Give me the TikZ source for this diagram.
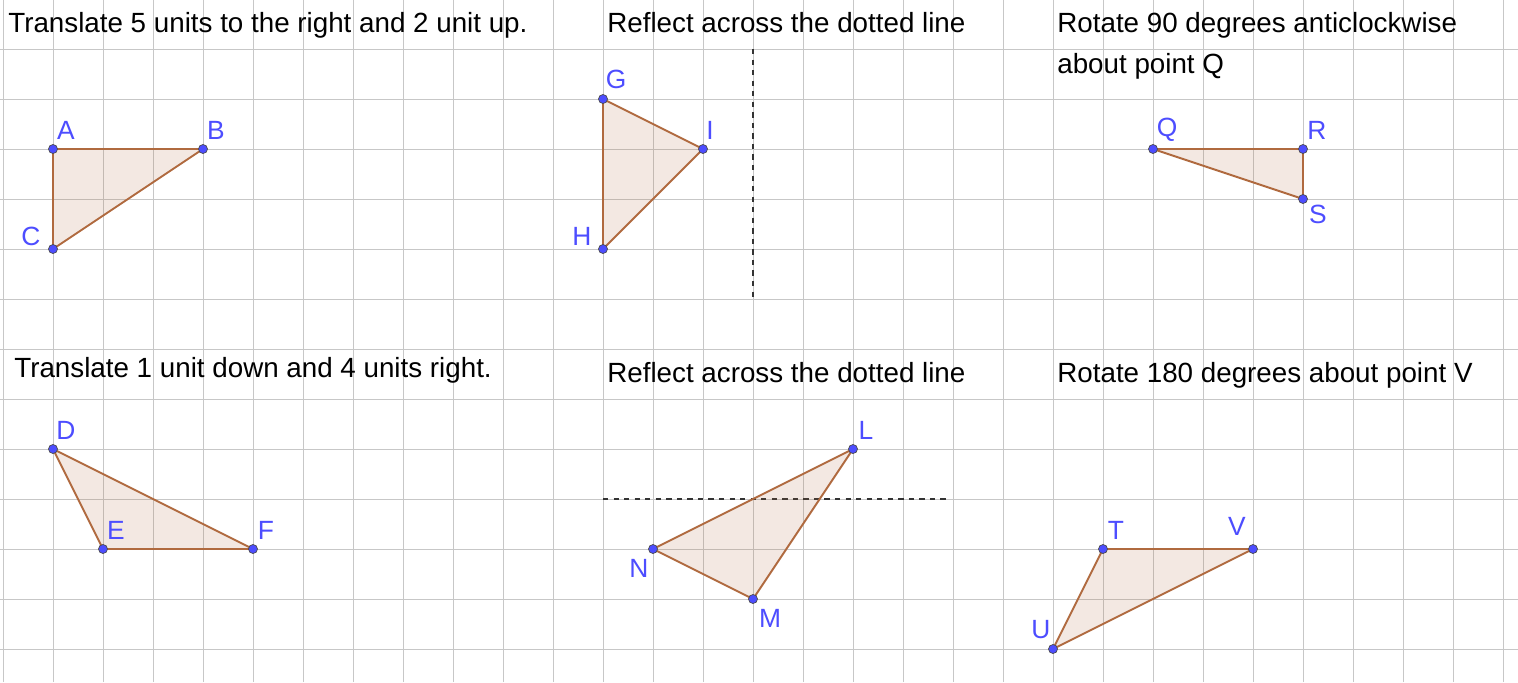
\documentclass[tikz,border=0pt]{standalone}
\usepackage{fontspec}
\setmainfont{Liberation Sans}
\usetikzlibrary{positioning}
\definecolor{ptblue}{HTML}{4D4DFF}
\definecolor{edgebrown}{HTML}{B06A3F}
\tikzset {
  % grid points
  pt/.style = {draw=black!70, fill=ptblue, circle, inner sep=0pt, minimum size=1.8mm},
  lbl/.style = {text=ptblue, font=\fontsize{15}{17}\selectfont, inner sep=0pt},
  % triangles
  tri/.style = {draw=edgebrown, fill=edgebrown, fill opacity=0.15, line width=1.1pt, line join=round},
  task/.style = {anchor=base west, inner sep=0pt, font=\fontsize{15.8}{18}\selectfont},
  mirror/.style = {dashed, thick, black!80},
}
\begin{document}
\begin{tikzpicture}
      \useasboundingbox (-0.06,-0.66) rectangle (30.3,12.98);
      \fill[white] (-0.06,-0.66) rectangle (30.3,12.98);
      \draw[black!22, thin] (-0.06,-0.66) grid (30.3,12.98);

      % task texts
      \node[task] (t1) at (0.1,12.34) {Translate 5 units to the right and 2 unit up.};
      \node[task] (t2) at (12.08,12.34) {Reflect across the dotted line};
      \node[task] (t3) at (21.08,12.34) {Rotate 90 degrees anticlockwise};
      \node[task] (t3b) at (21.08,11.52) {about point Q};
      \node[task] (t4) at (0.22,5.44) {Translate 1 unit down and 4 units right.};
      \node[task] (t5) at (12.08,5.34) {Reflect across the dotted line};
      \node[task] (t6) at (21.08,5.34) {Rotate 180 degrees about point V};

      % mirror lines
      \coordinate (m1) at (15,12);
      \coordinate (m2) at (15,7);
      \coordinate (m3) at (12,3);
      \coordinate (m4) at (18.9,3);
      \draw[mirror] (m1) -- (m2);
      \draw[mirror] (m3) -- (m4);

      % points
      \coordinate (A) at (1,10);
      \coordinate (B) at (4,10);
      \coordinate (C) at (1,8);
      \coordinate (G) at (12,11);
      \coordinate (I) at (14,10);
      \coordinate (H) at (12,8);
      \coordinate (Q) at (23,10);
      \coordinate (R) at (26,10);
      \coordinate (S) at (26,9);
      \coordinate (D) at (1,4);
      \coordinate (E) at (2,2);
      \coordinate (F) at (5,2);
      \coordinate (L) at (17,4);
      \coordinate (N) at (13,2);
      \coordinate (M) at (15,1);
      \coordinate (T) at (22,2);
      \coordinate (V) at (25,2);
      \coordinate (U) at (21,0);

      % triangles
      \filldraw[tri] (A) -- (B) -- (C) -- cycle;
      \filldraw[tri] (G) -- (I) -- (H) -- cycle;
      \filldraw[tri] (Q) -- (R) -- (S) -- cycle;
      \filldraw[tri] (D) -- (E) -- (F) -- cycle;
      \filldraw[tri] (L) -- (M) -- (N) -- cycle;
      \filldraw[tri] (T) -- (V) -- (U) -- cycle;
      \foreach \p in {A,B,C,G,I,H,Q,R,S,D,E,F,L,N,M,T,V,U}
        \node[pt] at (\p) {};

      % labels
      \foreach \p/\dx/\dy in {A/0.26/0.38, B/0.26/0.38, C/-0.44/0.26, G/0.26/0.4,
          I/0.14/0.38, H/-0.42/0.26, Q/0.28/0.38, R/0.28/0.38, S/0.3/-0.3,
          D/0.26/0.38, E/0.26/0.38, F/0.26/0.38, L/0.26/0.38, N/-0.28/-0.38,
          M/0.34/-0.38, T/0.26/0.38, V/-0.32/0.46, U/-0.24/0.38}
        \node[lbl] (l\p) at ([shift={(\dx,\dy)}]\p) {\p};
\end{tikzpicture}
\end{document}
